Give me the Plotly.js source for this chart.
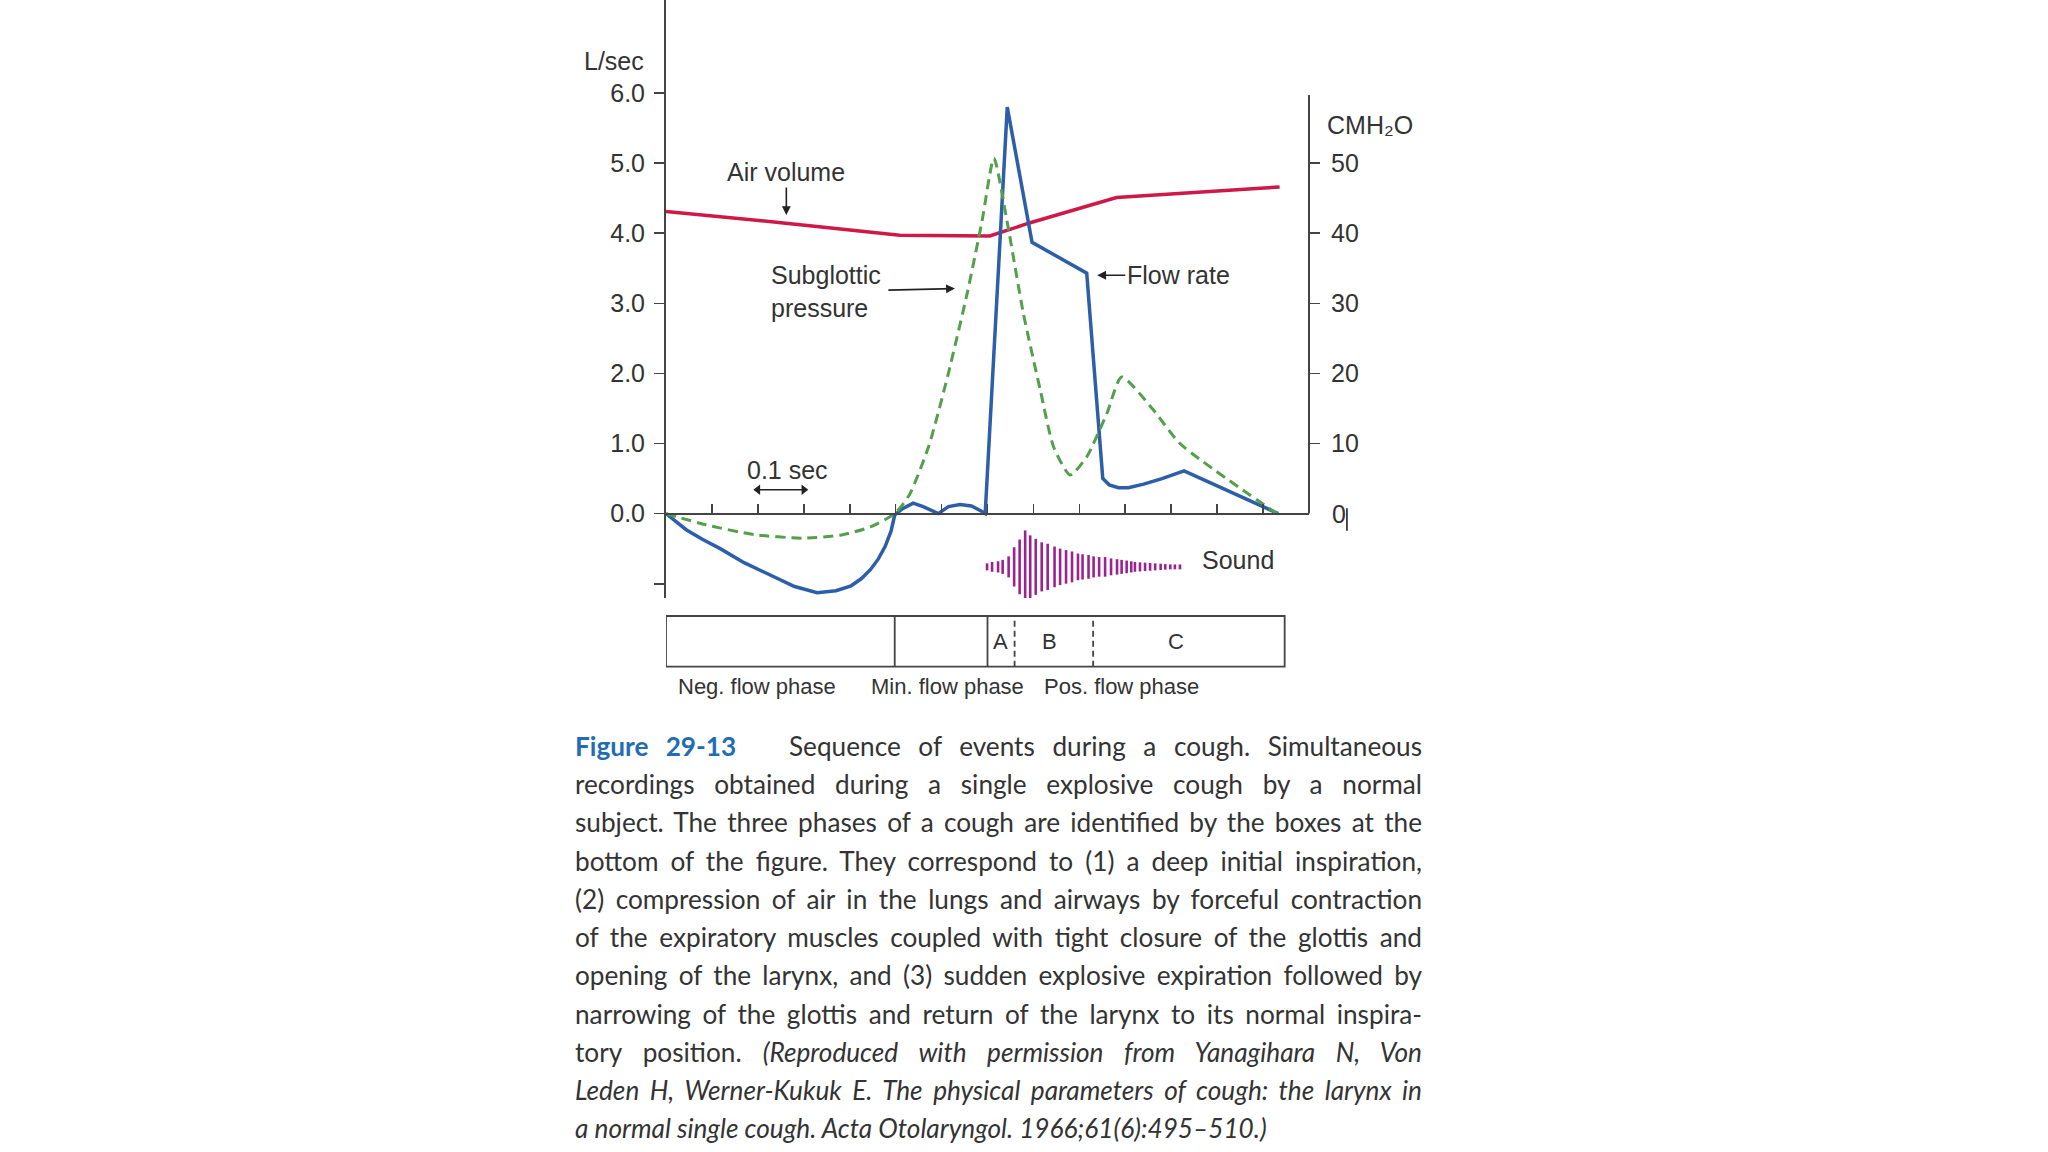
<!DOCTYPE html>
<html><head><meta charset="utf-8">
<script src="https://cdn.plot.ly/plotly-3.0.1.min.js"></script>
<style>
html,body{margin:0;padding:0;background:#fff;}
#wrap{position:relative;width:2048px;height:1152px;overflow:hidden;background:#fff;}
#chart{position:absolute;left:0;top:0;width:2048px;height:1152px;}
.cl{position:absolute;left:575px;width:847px;height:38px;line-height:38px;white-space:nowrap;font-family:Lato,'Open Sans',sans-serif;font-size:26.2px;color:#333;}
.cl span.in{display:inline-block;transform-origin:0 50%;}
.fig{color:#1f6db5;font-weight:bold;}
</style></head>
<body><div id="wrap"><div id="chart"></div><div id="caption"></div></div>
<script>
// ---- Data ----
// Air volume (L) vs time (s)
const timeVol = [0, 0.266, 0.509, 0.705, 0.793, 0.981, 1.336];
const airVolume = [4.31, 4.14, 3.97, 3.96, 4.15, 4.51, 4.66];

// Flow rate (L/sec) vs time (s)
const timeFlow = [0, 0.02, 0.044, 0.08, 0.118, 0.17, 0.234, 0.28, 0.329, 0.37, 0.403, 0.425, 0.445, 0.462, 0.477, 0.49, 0.498,
                  0.515, 0.538, 0.56, 0.593, 0.615, 0.64, 0.665, 0.685, 0.695, 0.743, 0.797, 0.916, 0.951, 0.965, 0.985, 1.007, 1.04, 1.08, 1.128, 1.333];
const flowRate = [0, -0.11, -0.23, -0.37, -0.50, -0.70, -0.90, -1.04, -1.13, -1.10, -1.03, -0.93, -0.80, -0.65, -0.47, -0.25, -0.02,
                  0.07, 0.15, 0.10, 0.0, 0.10, 0.13, 0.11, 0.04, 0, 5.80, 3.87, 3.43, 0.50, 0.41, 0.37, 0.37, 0.42, 0.50, 0.61, 0];

// Subglottic pressure (cmH2O) vs time (s)
const timeP = [0, 0.087, 0.192, 0.298, 0.382, 0.445, 0.498, 0.530, 0.572, 0.614, 0.656, 0.688, 0.714, 0.742, 0.778, 0.815, 0.844, 0.880, 0.916, 0.960, 0.992, 1.061, 1.119, 1.330];
const pressure = [0, -1.6, -3.0, -3.5, -3.05, -1.9, 0, 2.7, 9.6, 19.8, 31.5, 41.7, 50.7, 41.9, 28.6, 17.6, 9.5, 5.5, 8.1, 14.3, 19.5, 14.8, 10.0, 0];

// Sound burst: time of each stroke (s) and half-amplitude (L/sec scale)
const soundTime = [0.699, 0.710, 0.723, 0.733, 0.746, 0.758, 0.770, 0.782, 0.793, 0.805, 0.818, 0.831, 0.846, 0.858, 0.871, 0.884, 0.897, 0.907, 0.920,
                   0.931, 0.943, 0.956, 0.969, 0.982, 0.992, 1.003, 1.013, 1.021, 1.032, 1.043, 1.054, 1.065, 1.077, 1.087, 1.098, 1.108, 1.119];
const soundAmp = [0.05, 0.07, 0.08, 0.10, 0.15, 0.28, 0.39, 0.52, 0.45, 0.40, 0.35, 0.33, 0.29, 0.26, 0.24, 0.22, 0.19, 0.18, 0.17,
                  0.15, 0.14, 0.14, 0.12, 0.11, 0.10, 0.09, 0.08, 0.07, 0.065, 0.06, 0.055, 0.05, 0.045, 0.04, 0.035, 0.035, 0.035];
const soundCenter = -0.76;

// Axes ticks
const xTickVals = [0.1, 0.2, 0.3, 0.4, 0.5, 0.6, 0.7, 0.8, 0.9, 1.0, 1.1, 1.2, 1.3];
const leftTickVals = [0, 1, 2, 3, 4, 5, 6];
const leftTickText = ['0.0', '1.0', '2.0', '3.0', '4.0', '5.0', '6.0'];
const leftMinorTickVals = [-1];
const rightTickVals = [10, 20, 30, 40, 50];
const flowRange = [-1.204, 7.327];
const pressureRange = [-12.04, 73.27];
const rightAxisTop = 59.7;

// 0.1 sec scale bar
const scaleBar = [0.2, 0.3];
const scaleBarLevel = [0.34, 0.34];

// Phase boxes
const phaseEdges = [0.498, 0.700, 0.759, 0.930];
const phaseEdgeDash = ['solid', 'solid', 'dash', 'dash'];
const boxSpan = [0, 1.347];
const boxLetters = ['A', 'B', 'C'];
const boxLetterTimes = [0.728, 0.835, 1.110];
const phaseNames = ['Neg. flow phase', 'Min. flow phase', 'Pos. flow phase'];
const phaseNameTimes = [0.199, 0.613, 0.992];

// Caption
const captionLines = [
  '<span class="fig">Figure 29-13</span>&nbsp;&nbsp; Sequence of events during a cough. Simultaneous',
  'recordings obtained during a single explosive cough by a normal',
  'subject. The three phases of a cough are identified by the boxes at the',
  'bottom of the figure. They correspond to (1) a deep initial inspiration,',
  '(2) compression of air in the lungs and airways by forceful contraction',
  'of the expiratory muscles coupled with tight closure of the glottis and',
  'opening of the larynx, and (3) sudden explosive expiration followed by',
  'narrowing of the glottis and return of the larynx to its normal inspira-',
  'tory position. <i>(Reproduced with permission from Yanagihara N, Von</i>',
  '<i>Leden H, Werner-Kukuk E. The physical parameters of cough: the larynx in</i>',
  '<i>a normal single cough. Acta Otolaryngol. 1966;61(6):495–510.)</i>'
];

// ---- Build chart ----
const FONT = 'Liberation Sans, Arial, Helvetica, sans-serif';
const TXT = '#333333';
const AX = '#444444';

const sx = [], sy = [];
soundTime.forEach((t, i) => {
  sx.push(t, t, null);
  sy.push(soundCenter - soundAmp[i], soundCenter + soundAmp[i], null);
});

const traces = [
  {x: timeVol, y: airVolume, mode: 'lines', name: 'Air volume', line: {color: '#cd1848', width: 3.5}, yaxis: 'y', hoverinfo: 'skip'},
  {x: timeFlow, y: flowRate, mode: 'lines', name: 'Flow rate', line: {color: '#2d5ea9', width: 3.5}, yaxis: 'y', hoverinfo: 'skip'},
  {x: sx, y: sy, mode: 'lines', name: 'Sound', line: {color: '#9b2390', width: 2.6}, yaxis: 'y', connectgaps: false, hoverinfo: 'skip'},
  {x: scaleBar, y: scaleBarLevel, mode: 'lines+markers', name: '0.1 sec', line: {color: '#222', width: 1.6},
    marker: {symbol: ['triangle-left', 'triangle-right'], size: 9, color: '#222'}, yaxis: 'y', hoverinfo: 'skip', cliponaxis: false},
  {x: timeP, y: pressure, mode: 'lines', name: 'Subglottic pressure', line: {color: '#52a04a', width: 3, dash: '10px,6px', shape: 'spline', smoothing: 0.6}, yaxis: 'y2', hoverinfo: 'skip'}
];

const shapes = [];
// right axis line
shapes.push({type: 'line', xref: 'paper', x0: 1, x1: 1, yref: 'y2', y0: 0, y1: rightAxisTop, line: {color: AX, width: 2}});
// cursor bar next to the right-axis "0"
shapes.push({type: 'line', xref: 'paper', x0: 1.059, x1: 1.059, yref: 'y2', y0: -2.44, y1: 0.76, line: {color: '#222', width: 1.6}});
// phase box
const boxTop = -0.0301, boxBottom = -0.1149;
shapes.push({type: 'rect', xref: 'x', x0: boxSpan[0], x1: boxSpan[1], yref: 'paper', y0: boxBottom, y1: boxTop, line: {color: AX, width: 1.8}, fillcolor: 'rgba(0,0,0,0)'});
phaseEdges.forEach((e, i) => {
  shapes.push({type: 'line', xref: 'x', x0: e, x1: e, yref: 'paper', y0: boxBottom, y1: boxTop,
    line: {color: AX, width: 1.8, dash: phaseEdgeDash[i] === 'dash' ? '6px,4px' : 'solid'}});
});

const ann = [];
const base = {font: {family: FONT, size: 25, color: TXT}};
ann.push(Object.assign({}, base, {text: 'L/sec', xref: 'paper', x: 0, xanchor: 'right', xshift: -20, yref: 'y', y: 6.45, yanchor: 'middle', showarrow: false}));
ann.push(Object.assign({}, base, {text: 'CMH₂O', xref: 'paper', x: 1, xanchor: 'left', xshift: 16, yref: 'y2', y: 55.4, yanchor: 'middle', showarrow: false}));
ann.push(Object.assign({}, base, {text: '0', xref: 'paper', x: 1, xanchor: 'left', xshift: 21, yref: 'y2', y: 0, yanchor: 'middle', showarrow: false}));
ann.push(Object.assign({}, base, {text: 'Air volume', xref: 'x', x: 0.262, yref: 'y', y: 4.26, ax: 0, ay: -43,
  showarrow: true, arrowhead: 2, arrowsize: 1.1, arrowwidth: 1.6, arrowcolor: '#222'}));
ann.push(Object.assign({}, base, {text: 'Subglottic<br>pressure', align: 'left', xref: 'x', x: 0.629, yref: 'y', y: 3.21, ax: -129, ay: 3,
  borderpad: 7, showarrow: true, arrowhead: 2, arrowsize: 1.1, arrowwidth: 1.6, arrowcolor: '#222'}));
ann.push(Object.assign({}, base, {text: 'Flow rate', xref: 'x', x: 0.939, yref: 'y', y: 3.40, ax: 81, ay: 0,
  showarrow: true, arrowhead: 2, arrowsize: 1.1, arrowwidth: 1.6, arrowcolor: '#222'}));
ann.push(Object.assign({}, base, {text: '0.1 sec', xref: 'x', x: 0.265, yref: 'y', y: 0.62, xanchor: 'center', yanchor: 'middle', showarrow: false}));
ann.push(Object.assign({}, base, {text: 'Sound', xref: 'x', x: 1.163, yref: 'y', y: -0.66, xanchor: 'left', yanchor: 'middle', showarrow: false}));
boxLetters.forEach((L, i) => {
  ann.push({text: L, xref: 'x', x: boxLetterTimes[i], yref: 'paper', y: (boxTop + boxBottom) / 2, xanchor: 'center', yanchor: 'middle',
    showarrow: false, font: {family: FONT, size: 22, color: TXT}});
});
phaseNames.forEach((n, i) => {
  ann.push({text: n, xref: 'x', x: phaseNameTimes[i], yref: 'paper', y: -0.1483, xanchor: 'center', yanchor: 'middle',
    showarrow: false, font: {family: FONT, size: 22, color: TXT}});
});

const layout = {
  width: 2048, height: 1152,
  margin: {l: 666, r: 739, t: 0, b: 554, pad: 0},
  paper_bgcolor: '#ffffff', plot_bgcolor: 'rgba(0,0,0,0)',
  showlegend: false,
  font: {family: FONT, size: 25, color: TXT},
  xaxis: {range: [0, 1.4], domain: [0, 1], anchor: 'free', position: (0 - flowRange[0]) / (flowRange[1] - flowRange[0]),
    showline: true, linecolor: AX, linewidth: 2, ticks: 'inside', ticklen: 9, tickwidth: 1.6, tickcolor: AX,
    tickvals: xTickVals, showticklabels: false, showgrid: false, zeroline: false},
  yaxis: {range: flowRange, domain: [0, 1], anchor: 'x', showline: true, linecolor: AX, linewidth: 2,
    ticks: 'outside', ticklen: 10, tickwidth: 1.6, tickcolor: AX, tickmode: 'array', tickvals: leftTickVals, ticktext: leftTickText,
    minor: {tickmode: 'array', tickvals: leftMinorTickVals, ticks: 'outside', ticklen: 10, tickwidth: 1.6, tickcolor: AX, showgrid: false},
    showgrid: false, zeroline: false, ticklabelstandoff: 4, tickfont: {family: FONT, size: 25, color: TXT}},
  yaxis2: {range: pressureRange, overlaying: 'y', side: 'right', anchor: 'x', showline: false,
    ticks: 'outside', ticklen: 10, tickwidth: 1.6, tickcolor: AX, tickvals: rightTickVals,
    showgrid: false, zeroline: false, ticklabelstandoff: 6, tickfont: {family: FONT, size: 25, color: TXT}},
  shapes: shapes,
  annotations: ann
};

Plotly.newPlot('chart', traces, layout, {staticPlot: true, displayModeBar: false});

// ---- Caption (justified lines) ----
const cap = document.getElementById('caption');
const lineTop0 = 745.7, lineStep = 38.27;
const lineEls = captionLines.map((html, i) => {
  const d = document.createElement('div');
  d.className = 'cl';
  d.style.top = (lineTop0 - 19 + i * lineStep) + 'px';
  const s = document.createElement('span');
  s.className = 'in';
  s.innerHTML = html;
  d.appendChild(s);
  cap.appendChild(d);
  return s;
});
function fitCaption() {
  lineEls.forEach((s, i) => {
    s.style.wordSpacing = '0px';
    s.style.transform = 'none';
    const last = i === lineEls.length - 1;
    const target = 847;
    const w = s.getBoundingClientRect().width;
    const nSp = (s.textContent.match(/[ \u00a0]/g) || []).length;
    if (w > target) {
      s.style.transform = 'scaleX(' + (target / w) + ')';
    } else if (!last && nSp > 0) {
      s.style.wordSpacing = ((target - w) / nSp) + 'px';
    }
  });
}
if (document.fonts && document.fonts.ready) { document.fonts.ready.then(fitCaption); } else { fitCaption(); }
fitCaption();
</script></body></html>
